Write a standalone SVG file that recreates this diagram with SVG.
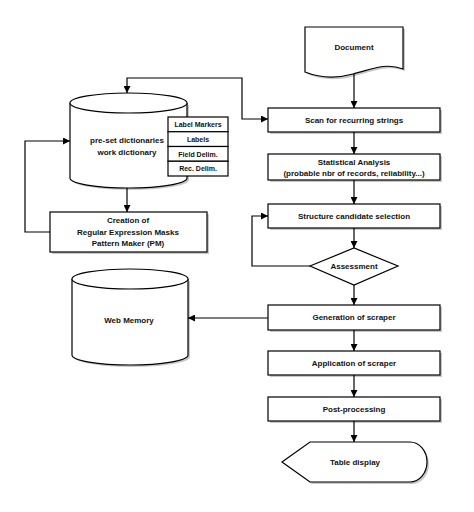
<svg xmlns="http://www.w3.org/2000/svg" width="474" height="512" viewBox="0 0 474 512">
<style>
.s{fill:#fff;stroke:#000;stroke-width:1.2}
.sh{fill:#c8c8c8;stroke:none}
.c{fill:none;stroke:#000;stroke-width:1.2}
text{font-family:"Liberation Sans",Arial,sans-serif;font-size:8px;font-weight:bold;text-anchor:middle;fill:#111}
.t{font-size:7px}
</style>
<defs>
<marker id="a" viewBox="0 0 10 10" refX="10" refY="5" markerWidth="7" markerHeight="7" markerUnits="userSpaceOnUse" orient="auto-start-reverse"><path d="M0,0 L10,5 L0,10 Z" fill="#000"/></marker>
</defs>
<rect width="474" height="512" fill="#fff"/>

<g id="document">
<path class="sh" d="M307,29 H405 V71 C387,64 372,72 355,76 C337,81 322,80 307,74 Z"/>
<path class="s" d="M305,27 H403 V69 C385,62 370,70 353,74 C335,79 320,78 305,72 Z"/>
<text x="354" y="50">Document</text>
</g>

<g id="scan">
<rect class="sh" x="270" y="110" width="172" height="24"/>
<rect class="s" x="268" y="108" width="172" height="24"/>
<text x="354" y="123">Scan for recurring strings</text>
</g>

<g id="stat">
<rect class="sh" x="270" y="156" width="172" height="26"/>
<rect class="s" x="268" y="154" width="172" height="26"/>
<text x="354" y="165">Statistical Analysis</text>
<text x="354" y="176">(probable nbr of records, reliability...)</text>
</g>

<g id="struct">
<rect class="sh" x="270" y="206" width="172" height="24"/>
<rect class="s" x="268" y="204" width="172" height="24"/>
<text x="354" y="219">Structure candidate selection</text>
</g>

<g id="assessment">
<path class="s" d="M310,266 L354,248 L398,266 L354,285 Z"/>
<text x="354" y="269">Assessment</text>
</g>

<g id="gen">
<rect class="sh" x="270" y="307" width="172" height="25"/>
<rect class="s" x="268" y="305" width="172" height="25"/>
<text x="354" y="320">Generation of scraper</text>
</g>

<g id="app">
<rect class="sh" x="270" y="353" width="172" height="24"/>
<rect class="s" x="268" y="351" width="172" height="24"/>
<text x="354" y="366">Application of scraper</text>
</g>

<g id="post">
<rect class="sh" x="270" y="399" width="172" height="24"/>
<rect class="s" x="268" y="397" width="172" height="24"/>
<text x="354" y="412">Post-processing</text>
</g>

<g id="table">
<path class="sh" d="M284,464 L312,444 H412 A17,20 0 0 1 412,484 H312 Z"/>
<path class="s" d="M282,462 L310,442 H410 A17,20 0 0 1 410,482 H310 Z"/>
<text x="355" y="465">Table display</text>
</g>

<g id="dict">
<path class="sh" d="M72,105 V180 A58.5,10 0 0 0 189,180 V105 Z"/>
<path class="s" d="M70,103 V178 A58.5,10 0 0 0 187,178 V103"/>
<ellipse class="s" cx="128.5" cy="103" rx="58.5" ry="10"/>
<text x="127" y="143">pre-set dictionaries</text>
<text x="127" y="155">work dictionary</text>
<rect class="s" x="168" y="117" width="60" height="14.75"/>
<rect class="s" x="168" y="131.75" width="60" height="14.75"/>
<rect class="s" x="168" y="146.5" width="60" height="14.75"/>
<rect class="s" x="168" y="161.25" width="60" height="14.75"/>
<text class="t" x="198" y="127">Label Markers</text>
<text class="t" x="198" y="141.5">Labels</text>
<text class="t" x="198" y="156.5">Field Delim.</text>
<text class="t" x="198" y="171">Rec. Delim.</text>
</g>

<g id="pm">
<rect class="sh" x="52" y="214" width="157" height="40"/>
<rect class="s" x="50" y="212" width="157" height="40"/>
<text x="128" y="223">Creation of</text>
<text x="128" y="235">Regular Expression Masks</text>
<text x="128" y="246">Pattern Maker (PM)</text>
</g>

<g id="web">
<path class="sh" d="M74,281 V357 A58,10 0 0 0 190,357 V281 Z"/>
<path class="s" d="M72,279 V355 A58,10 0 0 0 188,355 V279"/>
<ellipse class="s" cx="130" cy="279" rx="58" ry="10"/>
<text x="129" y="323">Web Memory</text>
</g>

<g id="connectors">
<path class="c" d="M354,74 V108" marker-end="url(#a)"/>
<path class="c" d="M354,132 V154" marker-end="url(#a)"/>
<path class="c" d="M354,180 V204" marker-end="url(#a)"/>
<path class="c" d="M354,228 V248" marker-end="url(#a)"/>
<path class="c" d="M354,285 V305" marker-end="url(#a)"/>
<path class="c" d="M354,330 V351" marker-end="url(#a)"/>
<path class="c" d="M354,375 V397" marker-end="url(#a)"/>
<path class="c" d="M354,421 V442" marker-end="url(#a)"/>
<path class="c" d="M310,266 H252 V216 H268" marker-end="url(#a)"/>
<path class="c" d="M268,318 H188" marker-end="url(#a)"/>
<path class="c" d="M127,93 V78 H242 V119 H268" marker-start="url(#a)" marker-end="url(#a)"/>
<path class="c" d="M50,232 H25 V141 H70" marker-end="url(#a)"/>
<path class="c" d="M127,188 V212" marker-end="url(#a)"/>
</g>
</svg>
